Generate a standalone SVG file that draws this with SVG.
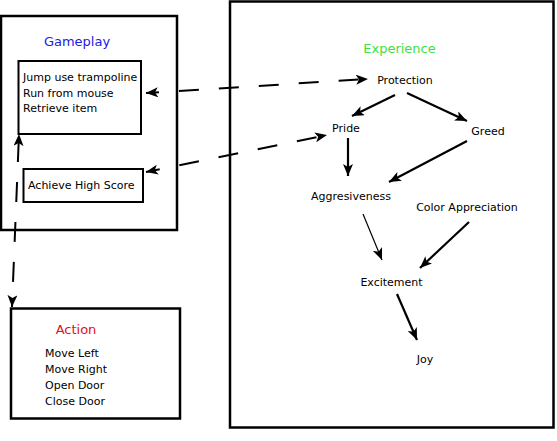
<svg xmlns="http://www.w3.org/2000/svg" width="557" height="441" viewBox="0 0 557 441">
<style>
.box{fill:#fff;stroke:#000;stroke-width:2.5}
.ibox{fill:#fff;stroke:#000;stroke-width:2}
text{font-family:"DejaVu Sans","Liberation Sans",sans-serif;font-size:11px;fill:#000}
.title{font-size:13px}
.edge{fill:none;stroke:#000;stroke-width:2.2}
.thin{fill:none;stroke:#000;stroke-width:1.2}
.dash{fill:none;stroke:#000;stroke-width:2;stroke-dasharray:20 20}
</style>
<defs>
<marker id="ah" viewBox="0 0 12 10" refX="12" refY="5" markerWidth="12" markerHeight="10" markerUnits="userSpaceOnUse" orient="auto-start-reverse">
<path d="M0,0 L12,5 L0,10 L3,5 z" fill="#000"/>
</marker>
</defs>
<g id="experience">
<rect class="box" x="230" y="1.5" width="323.5" height="426"/>
<text class="title" x="399.5" y="53" text-anchor="middle" style="fill:#3ee03e">Experience</text>
</g>
<g id="gameplay">
<rect class="box" x="1" y="16" width="176" height="214"/>
<text class="title" x="77" y="46" text-anchor="middle" style="fill:#2020e0">Gameplay</text>
</g>
<g id="gameplay-goals">
<rect class="ibox" x="18.5" y="61" width="122.5" height="73"/>
<text x="23" y="81">Jump use trampoline</text>
<text x="23" y="97">Run from mouse</text>
<text x="23" y="112">Retrieve item</text>
</g>
<g id="high-score">
<rect class="ibox" x="23.5" y="169" width="119.5" height="33"/>
<text x="28" y="189">Achieve High Score</text>
</g>
<g id="action">
<rect class="box" x="11" y="308.5" width="169" height="110"/>
<text class="title" x="76" y="334" text-anchor="middle" style="fill:#e01020">Action</text>
<text x="45" y="357">Move Left</text>
<text x="45" y="373">Move Right</text>
<text x="45" y="389">Open Door</text>
<text x="45" y="405">Close Door</text>
</g>
<g id="protection"><text x="405" y="84" text-anchor="middle">Protection</text></g>
<g id="pride"><text x="346" y="132" text-anchor="middle">Pride</text></g>
<g id="greed"><text x="488" y="135" text-anchor="middle">Greed</text></g>
<g id="aggresiveness"><text x="351" y="200" text-anchor="middle">Aggresiveness</text></g>
<g id="color-appreciation"><text x="467" y="211" text-anchor="middle">Color Appreciation</text></g>
<g id="excitement"><text x="391.5" y="286" text-anchor="middle">Excitement</text></g>
<g id="joy"><text x="425" y="363" text-anchor="middle">Joy</text></g>
<g id="connectors">
<line class="dash" x1="146" y1="93" x2="368" y2="79" stroke-dashoffset="7" marker-start="url(#ah)" marker-end="url(#ah)"/>
<line class="dash" x1="146" y1="172" x2="327" y2="135" stroke-dashoffset="6" marker-start="url(#ah)" marker-end="url(#ah)"/>
<line class="dash" x1="19" y1="134" x2="12" y2="307" stroke-dashoffset="32" marker-start="url(#ah)" marker-end="url(#ah)"/>
<line class="edge" x1="395" y1="95" x2="352" y2="116" marker-end="url(#ah)"/>
<line class="edge" x1="407" y1="93" x2="467" y2="121" marker-end="url(#ah)"/>
<line class="edge" x1="348" y1="138" x2="348" y2="176" marker-end="url(#ah)"/>
<line class="edge" x1="467" y1="141" x2="389" y2="182" marker-end="url(#ah)"/>
<line class="thin" x1="363" y1="214" x2="382" y2="260" marker-end="url(#ah)"/>
<line class="edge" x1="469" y1="222" x2="420" y2="268" marker-end="url(#ah)"/>
<line class="edge" x1="397" y1="294" x2="417" y2="340" marker-end="url(#ah)"/>
</g>
</svg>
